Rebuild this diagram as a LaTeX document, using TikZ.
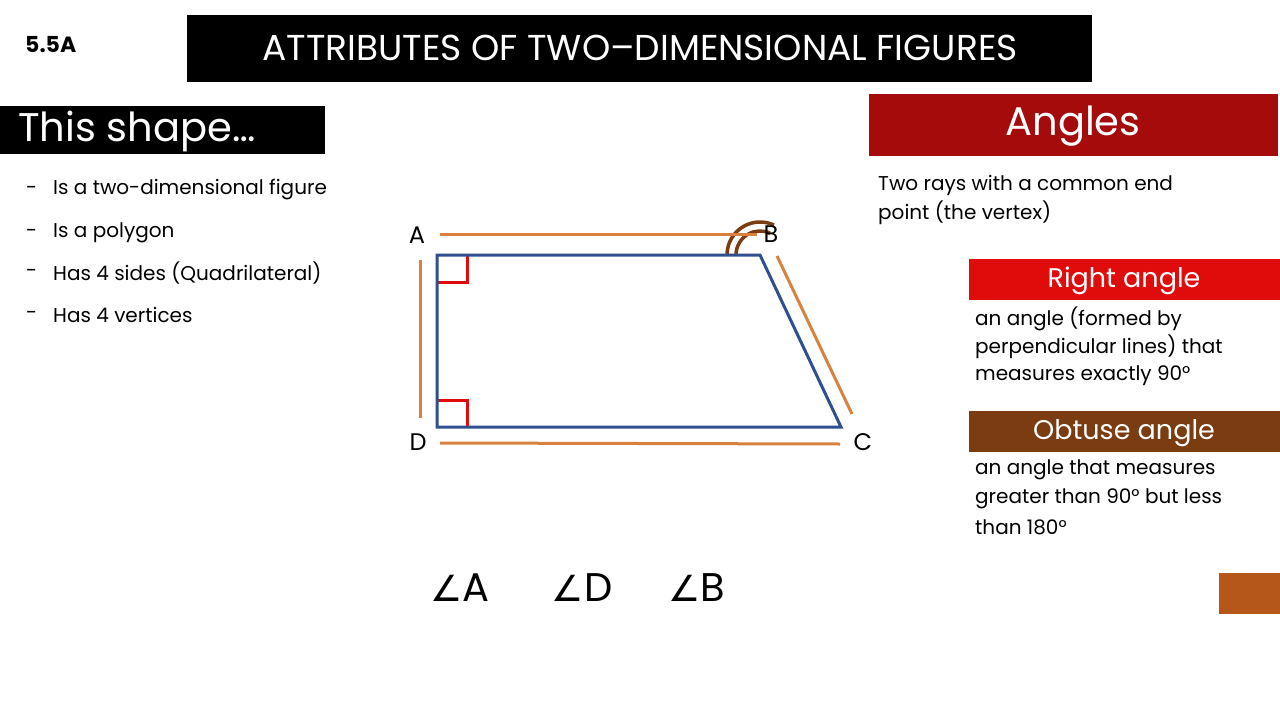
\documentclass[tikz,border=0pt]{standalone}
\usepackage{fontspec}
\setmainfont{Poppins}
\newfontfamily\symf{DejaVu Sans}
\definecolor{ored}{HTML}{D9823F}
\definecolor{qblue}{HTML}{2F4F8F}
\definecolor{rred}{HTML}{E00C0C}
\definecolor{dred}{HTML}{A60B0B}
\definecolor{brn}{HTML}{7A3C10}
\definecolor{obr}{HTML}{B5561A}
\begin{document}
\begin{tikzpicture}[x=1pt,y=-1pt,
  lab/.style={font=\fontsize{24}{24}\selectfont},
  txt/.style={anchor=west,inner sep=0,font=\fontsize{20}{20}\selectfont},
  side/.style={ored,line width=3pt},
  ra/.style={rred,line width=3pt}]
\useasboundingbox[fill=white] (0,0) rectangle (1280,720);
\node[anchor=west,inner sep=0,font=\bfseries\fontsize{22}{22}\selectfont] (num) at (25,45) {5.5A};
\fill (187,15) rectangle (1092,82);
\node[white,font=\fontsize{36}{36}\selectfont] (title) at (640,48) {ATTRIBUTES OF TWO–DIMENSIONAL FIGURES};
\fill (0,106) rectangle (325,154);
\node[white,anchor=west,inner sep=0,font=\fontsize{40}{40}\selectfont] (ts) at (18,131) {This shape…};
\foreach \y/\t in {190/Is a two-dimensional figure,233/Is a polygon,273/Has 4 sides (Quadrilateral),315/Has 4 vertices}{
  \node[txt] at (26,\y) {-};
  \node[txt] at (53,\y) {\t};}
% shape
\coordinate (A) at (437,255); \coordinate (B) at (760,255);
\coordinate (C) at (841,427); \coordinate (D) at (437,427);
\draw[ra] (437,282) -- (467,282) -- (467,255);
\draw[ra] (437,400) -- (467,400) -- (467,427);
\draw[brn,line width=3.5pt] ([shift={(180:33)}]B) arc[start angle=180,end angle=295,radius=33];
\draw[brn,line width=3.5pt] ([shift={(180:24)}]B) arc[start angle=180,end angle=295,radius=24];
\draw[qblue,line width=3pt,line join=miter] (A) -- (B) -- (C) -- (D) -- cycle;
\draw[side] (440,234) -- (757,234);
\draw[side] (420,260) -- (420,418);
\draw[side] (440,443) -- (840,444);
\draw[side] (777,256) -- (852,414);
\node[lab] (la) at (417,235) {A};
\node[lab] (lb) at (771,234) {B};
\node[lab] (lc) at (863,442) {C};
\node[lab] (ld) at (418,442) {D};
\foreach \x/\l in {460/A,582/D,697/B}{
  \node[font=\fontsize{40}{40}\selectfont] at (\x,588) {{\symf\fontsize{36}{36}\selectfont ∠}\l};}
% right panel
\fill[dred] (869,94) rectangle (1278,156);
\node[white,font=\fontsize{40}{40}\selectfont] (ang) at (1073,126) {Angles};
\node[txt] at (878,185) {Two rays with a common end};
\node[txt] at (878,213) {point (the vertex)};
\fill[rred] (969,259) rectangle (1280,300);
\node[white,font=\fontsize{27}{27}\selectfont] (rt) at (1124,281) {Right angle};
\node[txt] at (975,319) {an angle (formed by};
\node[txt] at (975,347) {perpendicular lines) that};
\node[txt] at (975,376) {measures exactly 90°};
\fill[brn] (969,411) rectangle (1280,452);
\node[white,font=\fontsize{27}{27}\selectfont] (ob) at (1124,433) {Obtuse angle};
\node[txt] at (975,470) {an angle that measures};
\node[txt] at (975,499) {greater than 90° but less};
\node[txt] at (975,527) {than 180°};
\fill[obr] (1219,573) rectangle (1280,614);
\end{tikzpicture}
\end{document}
